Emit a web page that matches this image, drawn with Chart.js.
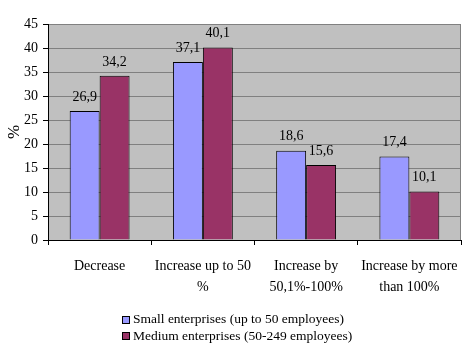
<!DOCTYPE html>
<html lang="en">
<head>
    <meta charset="UTF-8">
    <title>Enterprises chart</title>
    <script src="https://cdn.jsdelivr.net/npm/chart.js"></script>
    <style>
        html, body { margin: 0; padding: 0; background: #fff; }
        #wrap { width: 469px; height: 346px; }
    </style>
</head>
<body>
    <div id="wrap"><canvas id="chart" width="469" height="346"></canvas></div>
    <script>
        // data
        const categories = [['Decrease'], ['Increase up to 50', '%'], ['Increase by', '50,1%-100%'], ['Increase by more', 'than 100%']];
        const smallValues = [26.9, 37.1, 18.6, 17.4];
        const mediumValues = [34.2, 40.1, 15.6, 10.1];
        const seriesNames = ['Small enterprises (up to 50 employees)', 'Medium enterprises (50-249 employees)'];
        const yTicks = [0, 5, 10, 15, 20, 25, 30, 35, 40, 45];

        const serif = '"Liberation Serif", "Times New Roman", serif';

        const plotBg = {
            id: 'plotBg',
            beforeDraw(chart) {
                const { ctx, chartArea: a } = chart;
                ctx.save();
                ctx.fillStyle = '#c0c0c0';
                ctx.fillRect(a.left, a.top, a.right - a.left, a.bottom - a.top);
                ctx.strokeStyle = '#808080';
                ctx.lineWidth = 1;
                ctx.beginPath();
                ctx.moveTo(Math.round(a.right) - 0.5, a.top);
                ctx.lineTo(Math.round(a.right) - 0.5, a.bottom);
                ctx.stroke();
                ctx.restore();
            }
        };

        const valueLabels = {
            id: 'valueLabels',
            afterDatasetsDraw(chart) {
                const ctx = chart.ctx;
                ctx.save();
                ctx.font = '14px ' + serif;
                ctx.fillStyle = '#000';
                ctx.textAlign = 'center';
                ctx.textBaseline = 'middle';
                chart.data.datasets.forEach((ds, i) => {
                    chart.getDatasetMeta(i).data.forEach((bar, j) => {
                        ctx.fillText(ds.data[j].toFixed(1).replace('.', ','), bar.x, bar.y - 14);
                    });
                });
                ctx.restore();
            }
        };

        const stackedLegend = {
            id: 'stackedLegend',
            afterDraw(chart) {
                const ctx = chart.ctx;
                ctx.save();
                ctx.font = '13.5px ' + serif;
                ctx.textBaseline = 'middle';
                ctx.textAlign = 'left';
                chart.data.datasets.forEach((ds, i) => {
                    const y = 320 + i * 16;
                    ctx.fillStyle = ds.backgroundColor;
                    ctx.fillRect(122, y - 4, 8, 8);
                    ctx.strokeStyle = '#000';
                    ctx.lineWidth = 1;
                    ctx.strokeRect(122.5, y - 3.5, 7, 7);
                    ctx.fillStyle = '#000';
                    ctx.fillText(ds.label, 133, y - 1 + i * 1);
                });
                ctx.restore();
            }
        };

        new Chart(document.getElementById('chart'), {
            type: 'bar',
            data: {
                labels: categories,
                datasets: [{
                    label: seriesNames[0],
                    data: smallValues,
                    backgroundColor: '#9999ff',
                    borderColor: '#000',
                    borderWidth: 1
                }, {
                    label: seriesNames[1],
                    data: mediumValues,
                    backgroundColor: '#993366',
                    borderColor: '#000',
                    borderWidth: 1
                }]
            },
            options: {
                responsive: false,
                animation: false,
                categoryPercentage: 0.58,
                barPercentage: 1,
                layout: { padding: { top: 24, right: 8, bottom: 44, left: 0 } },
                plugins: {
                    legend: { display: false },
                    tooltip: { enabled: false }
                },
                scales: {
                    x: {
                        afterFit(scale) { scale.height = 62; },
                        grid: {
                            offset: true,
                            drawOnChartArea: false,
                            drawTicks: true,
                            tickLength: 5,
                            tickColor: '#000'
                        },
                        border: { color: '#000' },
                        ticks: {
                            color: '#000',
                            padding: 10,
                            maxRotation: 0,
                            autoSkip: false,
                            font: { family: serif, size: 14, lineHeight: 1.55 }
                        }
                    },
                    y: {
                        min: 0,
                        max: 45,
                        afterFit(scale) { scale.width = 48; },
                        afterBuildTicks(scale) { scale.ticks = yTicks.map(v => ({ value: v })); },
                        grid: {
                            color: '#808080',
                            tickColor: '#000',
                            tickLength: 5
                        },
                        border: { color: '#000' },
                        ticks: {
                            color: '#000',
                            padding: 5,
                            font: { family: serif, size: 14 }
                        },
                        title: {
                            display: true,
                            text: '%',
                            color: '#000',
                            padding: { top: 4, bottom: 0 },
                            font: { family: serif, size: 17 }
                        }
                    }
                }
            },
            plugins: [plotBg, valueLabels, stackedLegend]
        });
    </script>
</body>
</html>
